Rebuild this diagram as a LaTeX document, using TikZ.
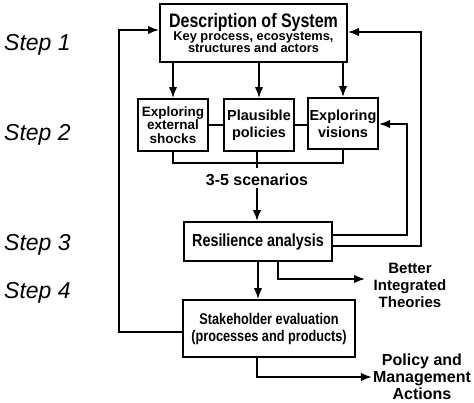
\documentclass[tikz,border=0pt]{standalone}
\usepackage{fontspec}
\setmainfont{Liberation Sans}
\newfontfamily\narrowfont[FakeStretch=0.82]{Liberation Sans}
\usetikzlibrary{arrows.meta}

\begin{document}
\begin{tikzpicture}[x=1pt,y=-1pt,
    box/.style={draw, line width=2pt, align=center, inner sep=0pt},
    smallbox/.style={box, minimum width=70pt, minimum height=52pt},
    flow/.style={line width=1.8pt, -{Latex[length=11pt,width=8.5pt]}},
    link/.style={line width=1.8pt},
    steplabel/.style={anchor=west, inner sep=0pt, font=\fontsize{23}{23}\selectfont\itshape},
    outlabel/.style={align=center, inner sep=1pt, font=\fontsize{15}{17}\selectfont\bfseries}]
  \useasboundingbox (0,0) rectangle (474,402);
  % steps
  \node[steplabel] (s1) at (4,45)  {Step 1};
  \node[steplabel] (s2) at (4,135) {Step 2};
  \node[steplabel] (s3) at (4,245) {Step 3};
  \node[steplabel] (s4) at (4,293) {Step 4};
  % boxes
  \node[box, minimum width=187pt, minimum height=58pt] (desc) at (253.5,33)
    {\narrowfont\bfseries\fontsize{19.5}{13}\selectfont Description of System\\
     \bfseries\fontsize{12.8}{14}\selectfont Key process, ecosystems,\\
     \bfseries\fontsize{12.8}{14}\selectfont structures and actors};
  \node[smallbox, font=\fontsize{13.5}{13.5}\selectfont\bfseries] (shocks) at (173,125) {Exploring\\external\\shocks};
  \node[smallbox, font=\fontsize{14.5}{17}\selectfont\bfseries] (policies) at (259,125) {Plausible\\policies};
  \node[smallbox, minimum height=51pt, font=\fontsize{14.5}{17}\selectfont\bfseries] (visions) at (343,123.5) {Exploring\\visions};
  \node[inner sep=2pt, font=\fontsize{16}{16}\selectfont\bfseries] (scen) at (257,180) {3-5 scenarios};
  \node[box, minimum width=148pt, minimum height=39pt, font=\narrowfont\bfseries\fontsize{17.5}{18}\selectfont] (resil) at (258,241.5) {Resilience analysis};
  \node[box, minimum width=172pt, minimum height=57pt, font=\narrowfont\bfseries\fontsize{15.5}{17}\selectfont] (stake) at (269,328.5) {Stakeholder evaluation\\(processes and products)};
  \node[outlabel] (better) at (410,285) {Better\\Integrated\\Theories};
  \node[outlabel, font=\fontsize{16}{17}\selectfont\bfseries] (policy) at (422,377) {Policy and\\Management\\Actions};
  % connectors
  \foreach \n in {shocks,policies,visions}
    \draw[flow] (desc.south -| \n.north) -- (\n.north);
  \draw[link] (shocks.east) -- (policies.west);
  \draw[link] (policies.east) -- (policies.east -| visions.west);
  \coordinate (bar) at (257,163);
  \draw[link] (shocks.south) |- (bar) -| (visions.south);
  \draw[link] (policies.south -| bar) -- ++(0,16);
  \draw[flow] (scen.south) -- (scen.south |- resil.north);
  \draw[flow] (resil.south) -- (resil.south |- stake.north);
  \coordinate (bt) at (365,279);
  \draw[flow] ([xshift=20pt]resil.south) |- (bt);
  \draw[flow] ([xshift=-12pt]stake.south) |- (policy.west);
  % feedback
  \coordinate (lft) at (119,30);
  \draw[flow] ([yshift=-3.5pt]stake.west) -| (lft) -- (lft -| desc.west);
  \coordinate (rt1) at (407,124);
  \draw[flow] ([yshift=6.5pt]resil.east) -| (rt1) -- (rt1 -| visions.east);
  \coordinate (rt2) at (421,32);
  \draw[flow] ([yshift=-4.5pt]resil.east) -| (rt2) -- (rt2 -| desc.east);
\end{tikzpicture}
\end{document}
